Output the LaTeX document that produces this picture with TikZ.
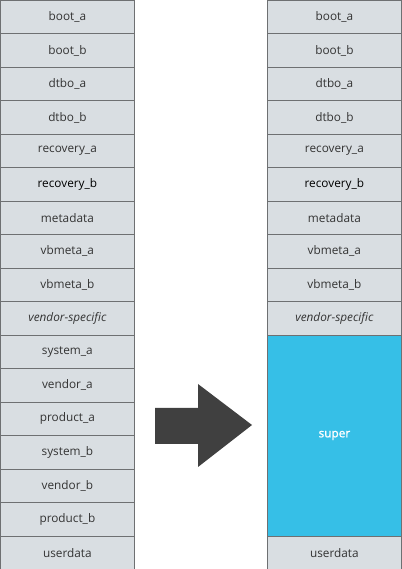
\documentclass[tikz,border=0pt]{standalone}
\usepackage{fontspec}
\setmainfont{Open Sans}
\newfontfamily\semibfont[FakeBold=1.2]{Open Sans}
\definecolor{cellgray}{HTML}{D9DEE2}
\definecolor{linegray}{HTML}{6E7072}
\definecolor{textgray}{HTML}{333333}
\definecolor{arrowgray}{HTML}{404040}
\definecolor{supercyan}{HTML}{36BFE7}
\begin{document}
\begin{tikzpicture}[x=1pt,y=1pt,
  cell/.style={draw=linegray, fill=cellgray, line width=0.8pt,
    minimum width=134pt, minimum height=33.47pt, inner sep=0pt,
    anchor=north west, text=textgray, font=\fontsize{11.8}{14}\selectfont},
  superbox/.style={cell, fill=supercyan, draw=linegray, minimum height=6*33.47pt,
    text=white, font=\semibfont\fontsize{11.8}{14}\selectfont}]
\useasboundingbox (0,0) rectangle (401,569);
\def\h{33.47}
% left column
\foreach \t [count=\i from 0] in {boot\_a,boot\_b,dtbo\_a,dtbo\_b,recovery\_a,{\color{black}recovery\_b},metadata,vbmeta\_a,vbmeta\_b,{\itshape vendor-specific},system\_a,vendor\_a,product\_a,system\_b,vendor\_b,product\_b,userdata}{
  \node[cell] (L\i) at (0,{569-\i*\h}) {\t};
}
% right column
\foreach \t [count=\i from 0] in {boot\_a,boot\_b,dtbo\_a,dtbo\_b,recovery\_a,{\color{black}recovery\_b},metadata,vbmeta\_a,vbmeta\_b,{\itshape vendor-specific}}{
  \node[cell] (R\i) at (267,{569-\i*\h}) {\t};
}
\node[superbox] (super) at (267,{569-10*\h}) {super};
\node[cell] (R16) at (267,{569-16*\h}) {userdata};
% borders
\draw[linegray, line width=2.5pt] (0,0) -- (0,569);
\draw[linegray, line width=2.5pt] (0,569) -- (134,569);
\draw[linegray, line width=2.5pt] (267,569) -- (401,569);
% arrow
\fill[arrowgray] (155,161) -- (198,161) -- (198,185) -- (252,144) -- (198,102) -- (198,125) -- (155,125) -- cycle;
\end{tikzpicture}
\end{document}
